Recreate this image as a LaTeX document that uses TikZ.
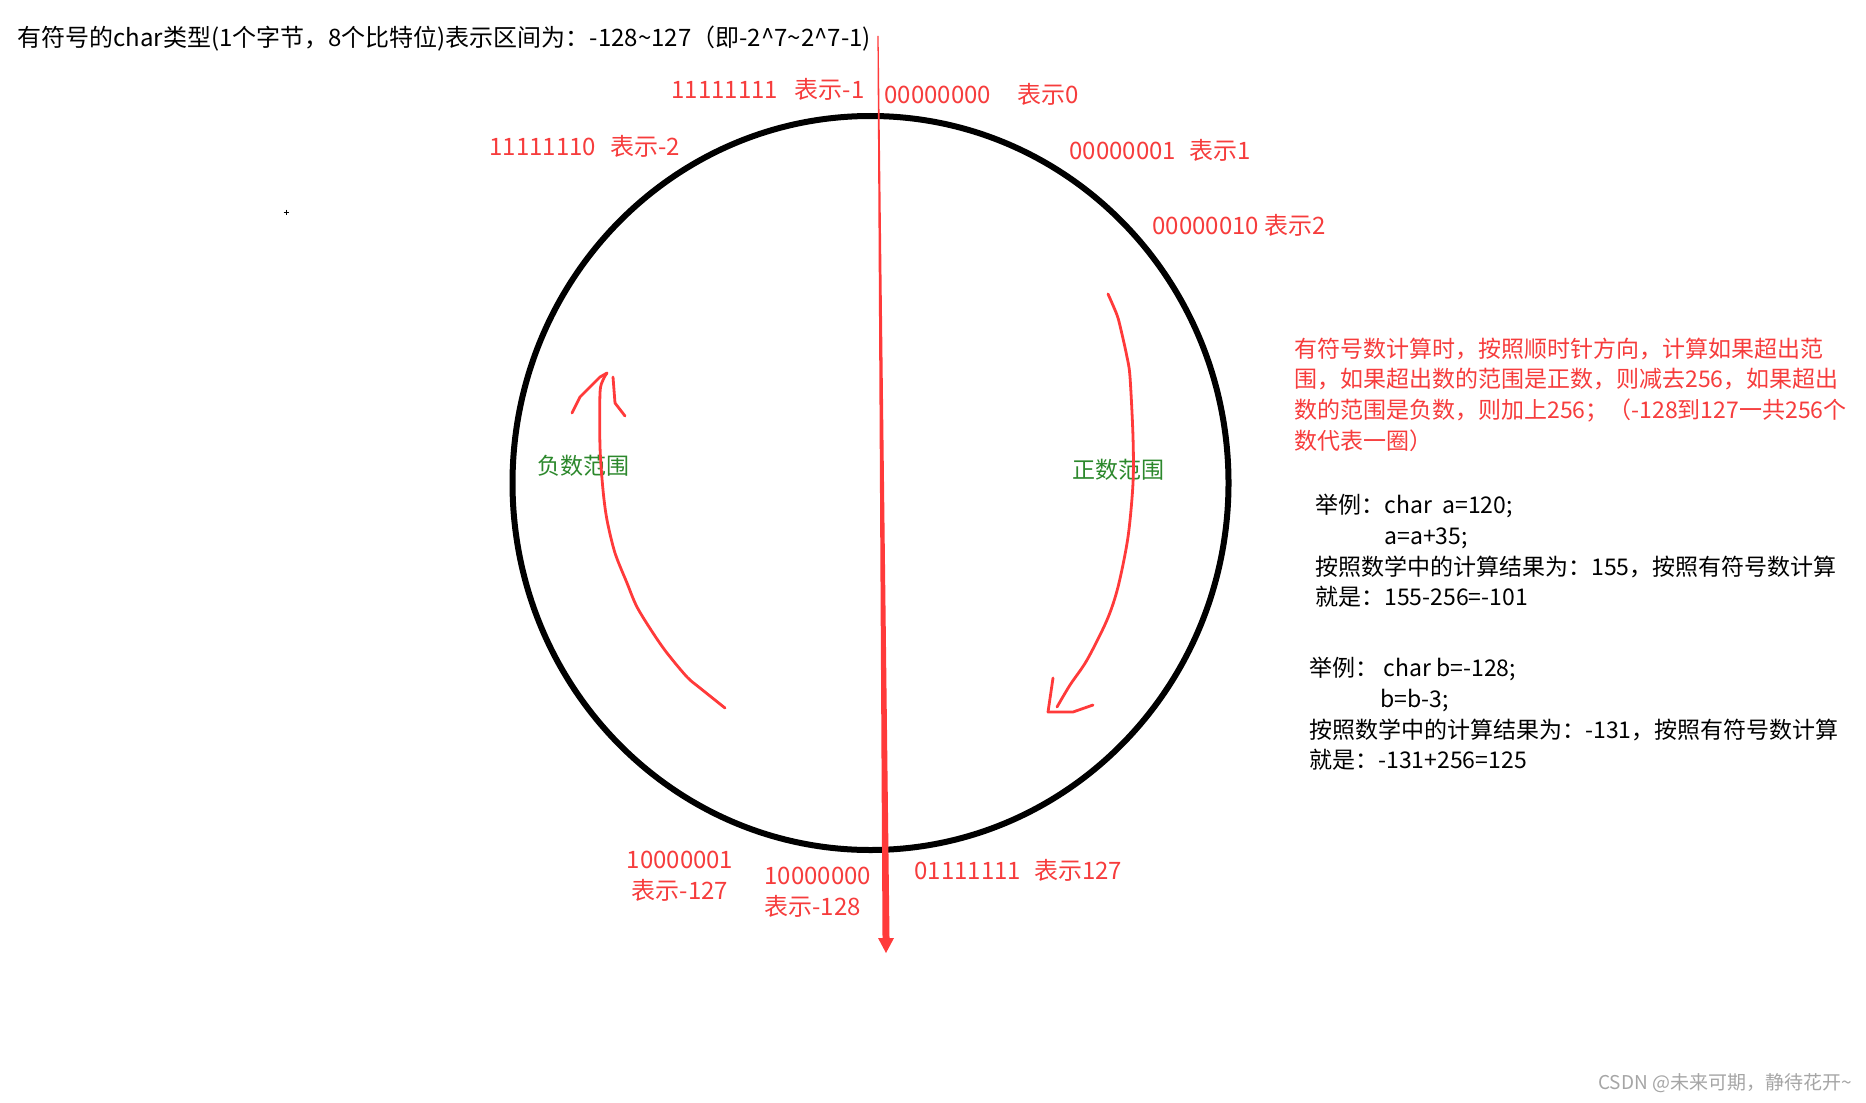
\documentclass[tikz,border=0pt]{standalone}
\usepackage{fontspec}
\setmainfont{Noto Sans CJK SC}
\usetikzlibrary{positioning}
\definecolor{penred}{RGB}{255,58,58}
\definecolor{txtred}{RGB}{246,60,60}
\definecolor{rangegreen}{RGB}{44,136,44}
\definecolor{markgray}{RGB}{165,165,165}

\begin{document}
\begin{tikzpicture}[%
    x=0.5pt, y=-0.5pt,
    lbl/.style={font=\fontsize{12}{15.5}\selectfont, text=txtred, inner sep=0pt, anchor=west},
    rng/.style={font=\fontsize{11.5}{14}\selectfont, text=rangegreen, inner sep=0pt, anchor=west},
    note/.style={font=\fontsize{11.5}{15.3}\selectfont, inner sep=0pt, anchor=west, align=left},
    pen/.style={draw=penred, line width=1.4pt, line cap=round, line join=round},
  ]
    \useasboundingbox (0,0) rectangle (1866,1102);

    \node[note,font=\fontsize{12}{15}\selectfont] (title) at (17,39) {有符号的char类型(1个字节，8个比特位)表示区间为：-128\textasciitilde127（即-2\textasciicircum7\textasciitilde2\textasciicircum7-1)};

    \draw[line width=3pt] (870.5,483) ellipse (358 and 367);

    \coordinate (axtop) at (878,36);
    \coordinate (axbot) at (886,953);
    \fill[penred] (axtop) +(-0.6,0) -- +(0.6,0) -- (889.5,938) -- (894,938) -- (axbot) -- (878,938) -- (882.5,938) -- cycle;

    \node[lbl] (m1)   at (671,89)  {11111111\hspace{0.7em}表示-1};
    \node[lbl] (z0)   at (884,94)  {00000000\hspace{1.1em}表示0};
    \node[lbl] (m2)   at (489,146) {11111110\hspace{0.6em}表示-2};
    \node[lbl] (p1)   at (1069,150) {00000001\hspace{0.55em}表示1};
    \node[lbl] (p2)   at (1152,225) {00000010 表示2};
    \node[lbl,align=center,anchor=center] (m127) at (680,876) {10000001\\表示-127};
    \node[lbl,align=left] (m128) at (764,892) {10000000\\表示-128};
    \node[lbl] (p127) at (914,870) {01111111\hspace{0.55em}表示127};

    \node[rng] (neg) at (537,466) {负数范围};
    \node[rng] (pos) at (1072,470) {正数范围};

    \draw[pen] plot[smooth] coordinates {(725,708) (700,688) (687,677) (667,653) (653,633) (637,607)
      (627,583) (615,553) (607,520) (603,490) (600,447) (600,393) (603,380) (607,373)};
    \draw[pen] (607,373) -- (600,377) -- (587,390) -- (580,397) -- (572,413);
    \draw[pen] (613,377) -- (615,403) -- (625,416);

    \draw[pen] plot[smooth] coordinates {(1108,294) (1117,315) (1121,330) (1127,357) (1130,377)
      (1133,437) (1133,483) (1128,537) (1118,587) (1107,620) (1087,660) (1070,685) (1057,707)};
    \draw[pen] (1053,678) -- (1048,712) -- (1073,712) -- (1093,705);

    \node[note,text=txtred] (rule) at (1294,394.5) {有符号数计算时，按照顺时针方向，计算如果超出范\\
      围，如果超出数的范围是正数，则减去256，如果超出\\
      数的范围是负数，则加上256；（-128到127一共256个\\
      数代表一圈）};

    \node[note] (ex1) at (1315,551) {举例：char\ \ a=120;\\
      \phantom{举例：}a=a+35;\\
      按照数学中的计算结果为：155，按照有符号数计算\\
      就是：155-256=-101};

    \node[note] (ex2) at (1309,714) {举例：\ char b=-128;\\
      \phantom{举例：}\hspace{1pt}b=b-3;\\
      按照数学中的计算结果为：-131，按照有符号数计算\\
      就是：-131+256=125};

    \node[font=\fontsize{9.5}{11}\selectfont, text=markgray, inner sep=0pt, anchor=east] (mark) at (1852,1083) {CSDN @未来可期，静待花开\textasciitilde};

    \draw[line width=0.5pt] (283.5,212) -- (288.5,212) (286,209.5) -- (286,214.5);
  \end{tikzpicture}
\end{document}
